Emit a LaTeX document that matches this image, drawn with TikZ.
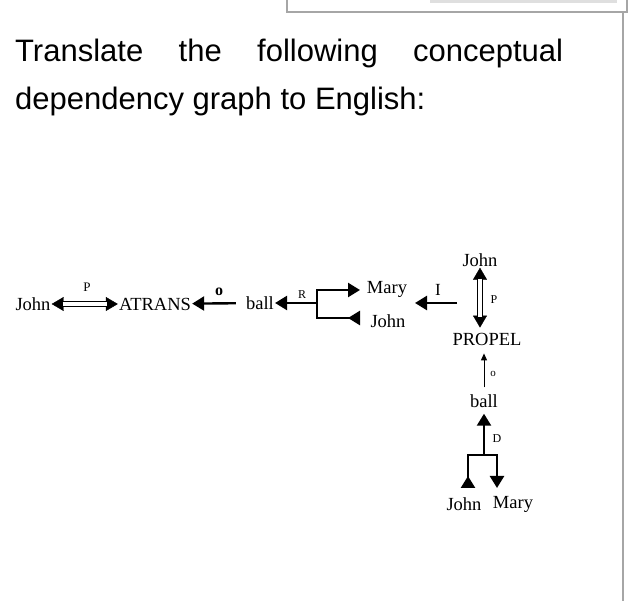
\documentclass[tikz,border=0pt]{standalone}
\usepackage{fontspec}
\setmainfont{Liberation Serif}
\newfontfamily\headfont{Liberation Sans}
\usetikzlibrary{arrows.meta}

\begin{document}
\begin{tikzpicture}[
  x=1pt, y=-1pt,
  cnode/.style={inner sep=1pt, font=\fontsize{18.5}{20}\selectfont},
  lbl/.style={inner sep=0pt, font=\fontsize{12}{14}\selectfont},
  headnode/.style={anchor=base west, inner sep=0pt, text width=548pt, align=justify,
    font={\headfont\fontsize{31}{48}\selectfont},
    execute at begin node={\tolerance=10000 \hyphenpenalty=10000 }},
  bond/.style={line width=2.4pt},
  arr/.style={bond, -{Triangle[length=12pt,width=14pt]}},
  bracket/.style={bond, {Triangle[length=12pt,width=14pt,reversed]}-{Triangle[length=12pt,width=14pt]}},
  rbracket/.style={bond, {Triangle[length=12pt,width=14pt]}-{Triangle[length=12pt,width=14pt,reversed]}},
  dbltips/.style={line width=0.4pt, {Triangle[length=12pt,width=14pt]}-{Triangle[length=12pt,width=14pt]}},
  dbl/.style={line width=1.1pt, double distance=3.4pt, shorten <=11pt, shorten >=11pt},
  thinarr/.style={line width=1pt, -{Triangle[length=7pt,width=6pt]}}
]
  \useasboundingbox (0,0) rectangle (633,601);

  % page frame
  \fill[gray!25] (430,-2) rectangle (617,3);
  \draw[gray!70, line width=1.5pt] (287,-2) |- (627,12) -- (627,-2);
  \draw[gray!70, line width=2pt] (623,12) -- (623,601);

  % question
  \node[headnode] (head) at (15,62) {Translate the following conceptual dependency graph to English:};

  % concepts, first row
  \node[cnode] (john1) at (33,304) {John};
  \node[cnode] (atrans) at (155,304) {ATRANS};
  \node[cnode] (ball1) at (260,303) {ball};
  \node[cnode] (mary1) at (387,289) {Mary};
  \node[cnode] (john2) at (388,321) {John};

  % concepts, column
  \node[cnode] (john3) at (480,260) {John};
  \node[cnode] (propel) at (487,339) {PROPEL};
  \node[cnode] (ball2) at (484,401) {ball};
  \node[cnode] (john4) at (464,504) {John};
  \node[cnode] (mary2) at (513,504) {Mary};

  % bracket ends
  \coordinate (rJ) at (317,303);
  \coordinate (rT) at (317,290);
  \coordinate (rB) at (317,318);
  \coordinate (rTe) at (360,290);
  \coordinate (rBe) at (360,318);
  \coordinate (iTail) at (457,303);
  \coordinate (iTip) at (415,303);
  \coordinate (dJ) at (484,455);
  \coordinate (dL) at (468,455);
  \coordinate (dR) at (497,455);
  \coordinate (dLe) at (468,488);
  \coordinate (dRe) at (497,488);

  % labels
  \node[lbl, font=\fontsize{13}{14}\selectfont] (lp1) at (87,287) {P};
  \node[lbl, font=\fontsize{16}{16}\selectfont\bfseries] (lo1) at (219,292) {o};
  \node[lbl] (lr) at (302,295) {R};
  \node[lbl, font=\fontsize{17}{18}\selectfont] (li) at (438,290) {I};
  \node[lbl] (lp2) at (494,300) {P};
  \node[lbl, font=\fontsize{11}{12}\selectfont] (lo2) at (493,374) {o};
  \node[lbl] (ld) at (497,439) {D};

  % first row links
  \draw[dbltips] (john1) -- (atrans);
  \draw[dbl] (john1) -- (atrans);
  \draw[arr, shorten <=9pt] (ball1) edge (atrans);
  \draw[arr] (rJ) -- (ball1);
  \draw[rbracket] (rTe) -- (rT) -- (rB) -- (rBe);
  \draw[arr] (iTail) -- (iTip);

  % column links
  \draw[dbltips, shorten >=4pt] (john3) -- (john3 |- propel.north);
  \draw[dbl, shorten >=15pt] (john3) -- (john3 |- propel.north);
  \draw[thinarr, shorten <=6pt, shorten >=7pt] (ball2) -- (ball2 |- propel.south);
  \draw[arr, shorten >=5pt] (dJ) -- (dJ |- ball2.south);
  \draw[bracket] (dLe) -- (dL) -- (dR) -- (dRe);

\end{tikzpicture}
\end{document}
